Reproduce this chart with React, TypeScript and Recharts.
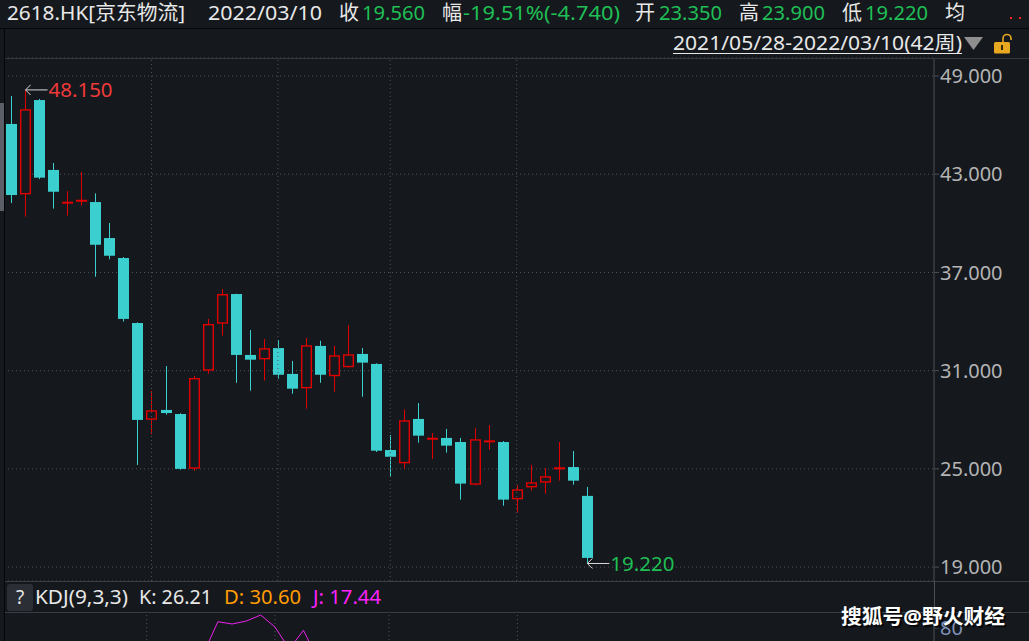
import React from 'react';
import {
  ComposedChart, Bar, XAxis, YAxis, CartesianGrid, ReferenceLine, ReferenceDot,
  LineChart, Line,
} from 'recharts';

// ---------- data (weekly candles, 2021/05/28 - 2022/03/10, 42 weeks) ----------
const opens = [
  46.07, 41.77, 47.53, 43.26, 41.24, 41.36, 41.30, 39.10, 37.88, 33.91,
  28.00, 28.60, 28.35, 25.01, 31.00, 33.87, 35.68, 31.96, 31.69, 32.38,
  30.80, 29.92, 32.51, 30.66, 31.21, 32.02, 31.41, 26.15, 25.34, 28.05,
  26.82, 26.89, 26.64, 24.03, 26.66, 26.64, 23.14, 23.87, 24.16, 24.97,
  25.11, 23.35,
];
const highs = [
  47.78, 48.15, 47.60, 43.69, 41.97, 43.14, 41.83, 40.02, 37.94, 33.95,
  29.76, 31.28, 28.40, 30.67, 34.16, 35.99, 35.70, 33.48, 32.93, 32.87,
  31.59, 33.00, 32.83, 32.51, 33.79, 32.38, 31.45, 27.07, 28.64, 29.02,
  27.19, 27.44, 26.89, 27.50, 27.68, 26.70, 24.00, 25.24, 25.04, 26.64,
  26.09, 23.90,
];
const lows = [
  41.24, 40.41, 42.70, 40.90, 40.47, 41.08, 36.74, 37.80, 34.00, 25.24,
  27.11, 28.31, 24.95, 24.89, 30.81, 33.14, 30.26, 29.78, 30.39, 30.51,
  29.59, 28.68, 30.26, 29.71, 31.19, 29.41, 26.03, 24.52, 25.01, 26.60,
  25.60, 25.99, 23.12, 24.00, 26.17, 22.75, 22.33, 23.67, 23.48, 24.28,
  24.03, 19.22,
];
const closes = [
  41.73, 46.97, 42.79, 41.93, 41.28, 41.40, 38.69, 38.02, 34.16, 27.99,
  28.58, 28.41, 25.00, 30.55, 33.85, 35.68, 31.96, 31.67, 32.37, 30.75,
  29.90, 32.55, 30.75, 31.94, 32.00, 31.49, 26.11, 25.74, 27.97, 27.03,
  26.86, 26.42, 24.10, 26.81, 26.70, 23.12, 23.75, 24.18, 24.55, 25.10,
  24.28, 19.56,
];
// KDJ J line (only the part visible in the lower pane)
const kdjJ: (number | null)[] = [
  null, null, null, null, null, null, null, null, null, null,
  null, null, null, null, 55, 86.3, 84, 87, 93, 81,
  59, 77.7, 49, null, null, null, null, null, null, null,
  null, null, null, null, null, null, null, null, null, null,
  null, null,
];
const priceTicks = [19, 25, 31, 37, 43, 49];
const kdjTicks = [80];
const gridWeeks = [10, 19, 27, 36];
const TOTAL_SLOTS = 66;

const maxPoint = { idx: 1, value: 48.15, label: '48.150' };
const minPoint = { idx: 41, value: 19.22, label: '19.220' };

const headerItems = [
  { t: '2618.HK[京东物流]', x: 7, len: 178, c: 'w' },
  { t: '2022/03/10', x: 208, len: 114, c: 'w' },
  { t: '收', x: 339, len: 20, c: 'w' },
  { t: '19.560', x: 362, len: 63, c: 'g' },
  { t: '幅', x: 442, len: 20, c: 'w' },
  { t: '-19.51%(-4.740)', x: 463, len: 157, c: 'g' },
  { t: '开', x: 635, len: 20, c: 'w' },
  { t: '23.350', x: 659, len: 63, c: 'g' },
  { t: '高', x: 739, len: 20, c: 'w' },
  { t: '23.900', x: 762, len: 63, c: 'g' },
  { t: '低', x: 842, len: 20, c: 'w' },
  { t: '19.220', x: 865, len: 63, c: 'g' },
  { t: '均', x: 945, len: 20, c: 'w' },
];
const kdjLabels = [
  { t: 'KDJ(9,3,3)', x: 35, len: 93, c: '#e8e8e8' },
  { t: 'K: 26.21', x: 139, len: 73, c: '#e8e8e8' },
  { t: 'D: 30.60', x: 224, len: 77, c: '#ff9c00' },
  { t: 'J: 17.44', x: 313, len: 68, c: '#ff22ff' },
];

// ---------- styles ----------
const BG = '#15181d';
const CYAN = '#3ccfcf';
const RED = '#e00000';
const GREEN = '#1fbf55';
const WHITE = '#e8e8e8';
const GRID = '#50545c';
const AXIS = '#4c4f56';
const FONT = '"Noto Sans", "Noto Sans CJK SC", sans-serif';

const rows = Array.from({ length: TOTAL_SLOTS }, (_, i) => {
  if (i < opens.length) {
    return {
      i, o: opens[i], h: highs[i], l: lows[i], c: closes[i],
      range: [lows[i], highs[i]], j: kdjJ[i],
    };
  }
  return { i, o: null, h: null, l: null, c: null, range: null, j: null };
});

function Candle(props: any) {
  const { x, y, width, height, payload } = props;
  if (!payload || payload.o == null || !isFinite(y) || !isFinite(height)) return null;
  const { o, h, l, c } = payload;
  const top = Math.min(y, y + height);
  const span = Math.abs(height);
  const k = span / (h - l);
  const py = (v: number) => top + (h - v) * k;
  const up = c >= o;
  const col = up ? RED : CYAN;
  const left = Math.round(x);
  const w = Math.round(width);
  const cx = left + Math.floor(w / 2) + 0.5;
  const bTop = py(Math.max(o, c));
  const bBot = py(Math.min(o, c));
  const bh = bBot - bTop;
  let body;
  if (bh < 1.5) {
    body = <rect x={left} y={(bTop + bBot) / 2 - 1} width={w} height={2} fill={col} />;
  } else if (up) {
    body = (
      <rect x={left + 0.7} y={bTop + 0.7} width={w - 1.4} height={bh - 1.4}
        fill={BG} stroke={col} strokeWidth={1.4} />
    );
  } else {
    body = <rect x={left} y={bTop} width={w} height={bh} fill={CYAN} />;
  }
  return (
    <g>
      <line x1={cx} x2={cx} y1={top} y2={top + span} stroke={col} strokeWidth={1} />
      {body}
    </g>
  );
}

function makeMarker(label: string, color: string) {
  return (p: any) => {
    const { cx, cy } = p;
    if (!isFinite(cx) || !isFinite(cy)) return null;
    const tip = cx + 0.5;
    return (
      <g>
        <line x1={tip} x2={tip + 22} y1={cy} y2={cy} stroke="#d8d8d8" strokeWidth={1} />
        <polyline points={`${tip + 5},${cy - 5} ${tip},${cy} ${tip + 5},${cy + 5}`}
          fill="none" stroke="#d8d8d8" strokeWidth={1} />
        <text x={tip + 23} y={cy + 7.5} fill={color} fontSize={20} fontFamily={FONT}
          textLength={64} lengthAdjust="spacingAndGlyphs">{label}</text>
      </g>
    );
  };
}

export default function App() {
  return (
    <div style={{ position: 'absolute', left: 0, top: 0, width: 1029, height: 641, background: BG, overflow: 'hidden' }}>
      <div style={{ position: 'absolute', left: 0, top: 0 }}>
        <ComposedChart width={1029} height={581} data={rows}
          margin={{ top: 58, right: 0, bottom: 0, left: 4 }}>
          <CartesianGrid vertical={false} stroke={GRID} strokeDasharray="1 3" />
          <XAxis dataKey="i" type="category" hide padding={{ left: 0, right: 3 }} />
          <YAxis orientation="right" width={95} domain={[18.15, 50.1]} allowDataOverflow
            ticks={priceTicks} interval={0} tickFormatter={(v: number) => v.toFixed(3)}
            axisLine={{ stroke: AXIS }} tickLine={{ stroke: AXIS }} tickSize={5} tickMargin={1}
            tick={{ fill: '#b4b4b4', fontSize: 20, fontFamily: FONT }} />
          {gridWeeks.map((w) => (
            <ReferenceLine key={w} x={w} stroke={GRID} strokeDasharray="1 3" />
          ))}
          <Bar dataKey="range" barSize={11} shape={Candle} isAnimationActive={false} />
          <ReferenceDot x={maxPoint.idx} y={maxPoint.value} shape={makeMarker(maxPoint.label, '#f03a3a')} />
          <ReferenceDot x={minPoint.idx} y={minPoint.value} shape={makeMarker(minPoint.label, GREEN)} />
        </ComposedChart>
      </div>
      <div style={{ position: 'absolute', left: 0, top: 612, width: 1029, height: 29, overflow: 'hidden' }}>
        <LineChart width={1029} height={120} data={rows}
          margin={{ top: 0, right: 0, bottom: 0, left: 4 }}>
          <XAxis dataKey="i" type="category" hide padding={{ left: 0, right: 3 }} />
          <YAxis orientation="right" width={95} domain={[-24, 96]} allowDataOverflow
            ticks={kdjTicks} interval={0}
            axisLine={{ stroke: AXIS }} tickLine={{ stroke: AXIS }} tickSize={5} tickMargin={1}
            tick={{ fill: '#7f93b8', fontSize: 20, fontFamily: FONT }} />
          {gridWeeks.map((w) => (
            <ReferenceLine key={w} x={w} stroke={GRID} strokeDasharray="1 3" />
          ))}
          <Line type="linear" dataKey="j" stroke="#ee22ee" strokeWidth={1} dot={false}
            connectNulls={false} isAnimationActive={false} />
        </LineChart>
      </div>
      <svg width={1029} height={641} style={{ position: 'absolute', left: 0, top: 0, pointerEvents: 'none' }}>
        {/* frame */}
        <line x1={0} x2={1029} y1={28.5} y2={28.5} stroke="#050607" strokeWidth={1} />
        <line x1={4.5} x2={4.5} y1={28} y2={641} stroke="#050607" strokeWidth={1} />
        <line x1={5} x2={1029} y1={58.5} y2={58.5} stroke="#34373d" strokeWidth={1} />
        <line x1={5} x2={1029} y1={581.5} y2={581.5} stroke="#3a3d43" strokeWidth={1} />
        <line x1={5} x2={1029} y1={612.5} y2={612.5} stroke="#3a3d43" strokeWidth={1} />
        <line x1={934.5} x2={934.5} y1={581} y2={612} stroke={AXIS} strokeWidth={1} />
        <rect x={0} y={103} width={4} height={108} fill="#5c5f68" />
        {/* header */}
        {headerItems.map((h, k) => (
          <text key={k} x={h.x} y={20} fill={h.c === 'g' ? GREEN : WHITE} fontSize={20}
            fontFamily={FONT} textLength={h.len} lengthAdjust="spacingAndGlyphs">{h.t}</text>
        ))}
        <rect x={1010} y={17} width={2} height={2} fill="#ff2020" />
        <rect x={1019} y={17} width={2} height={2} fill="#ff2020" />
        {/* date range */}
        <text x={673} y={50} fill={WHITE} fontSize={19} fontFamily={FONT}
          textLength={289} lengthAdjust="spacingAndGlyphs">2021/05/28-2022/03/10(42周)</text>
        <line x1={673} x2={962} y1={53.5} y2={53.5} stroke={WHITE} strokeWidth={1} />
        <polygon points="964,37 983,37 973.5,50" fill="#8e8e8e" />
        <path d="M1003 42 V38.5 a4 4 0 0 1 8 0 V40" fill="none" stroke="#e8a820" strokeWidth={1.6} />
        <rect x={994} y={42} width={16} height={11.5} rx={1.5} fill="#e8a820" />
        <rect x={1001} y={45} width={2} height={5} fill="#3a2a00" />
        {/* KDJ header */}
        <rect x={7} y={584} width={26} height={27} rx={3} fill="#2b2e35" />
        <text x={20} y={604} fill={WHITE} fontSize={19} fontFamily={FONT} textAnchor="middle">?</text>
        {kdjLabels.map((h, k) => (
          <text key={k} x={h.x} y={604} fill={h.c} fontSize={20} fontFamily={FONT}
            textLength={h.len} lengthAdjust="spacingAndGlyphs">{h.t}</text>
        ))}
        {/* watermark */}
        <text x={843} y={626} fill="#000" fillOpacity={0.75} fontSize={20} fontWeight={700}
          fontFamily={FONT} textLength={164} lengthAdjust="spacingAndGlyphs">搜狐号@野火财经</text>
        <text x={841} y={624} fill="#ffffff" fontSize={20} fontWeight={700}
          fontFamily={FONT} textLength={164} lengthAdjust="spacingAndGlyphs">搜狐号@野火财经</text>
      </svg>
    </div>
  );
}
